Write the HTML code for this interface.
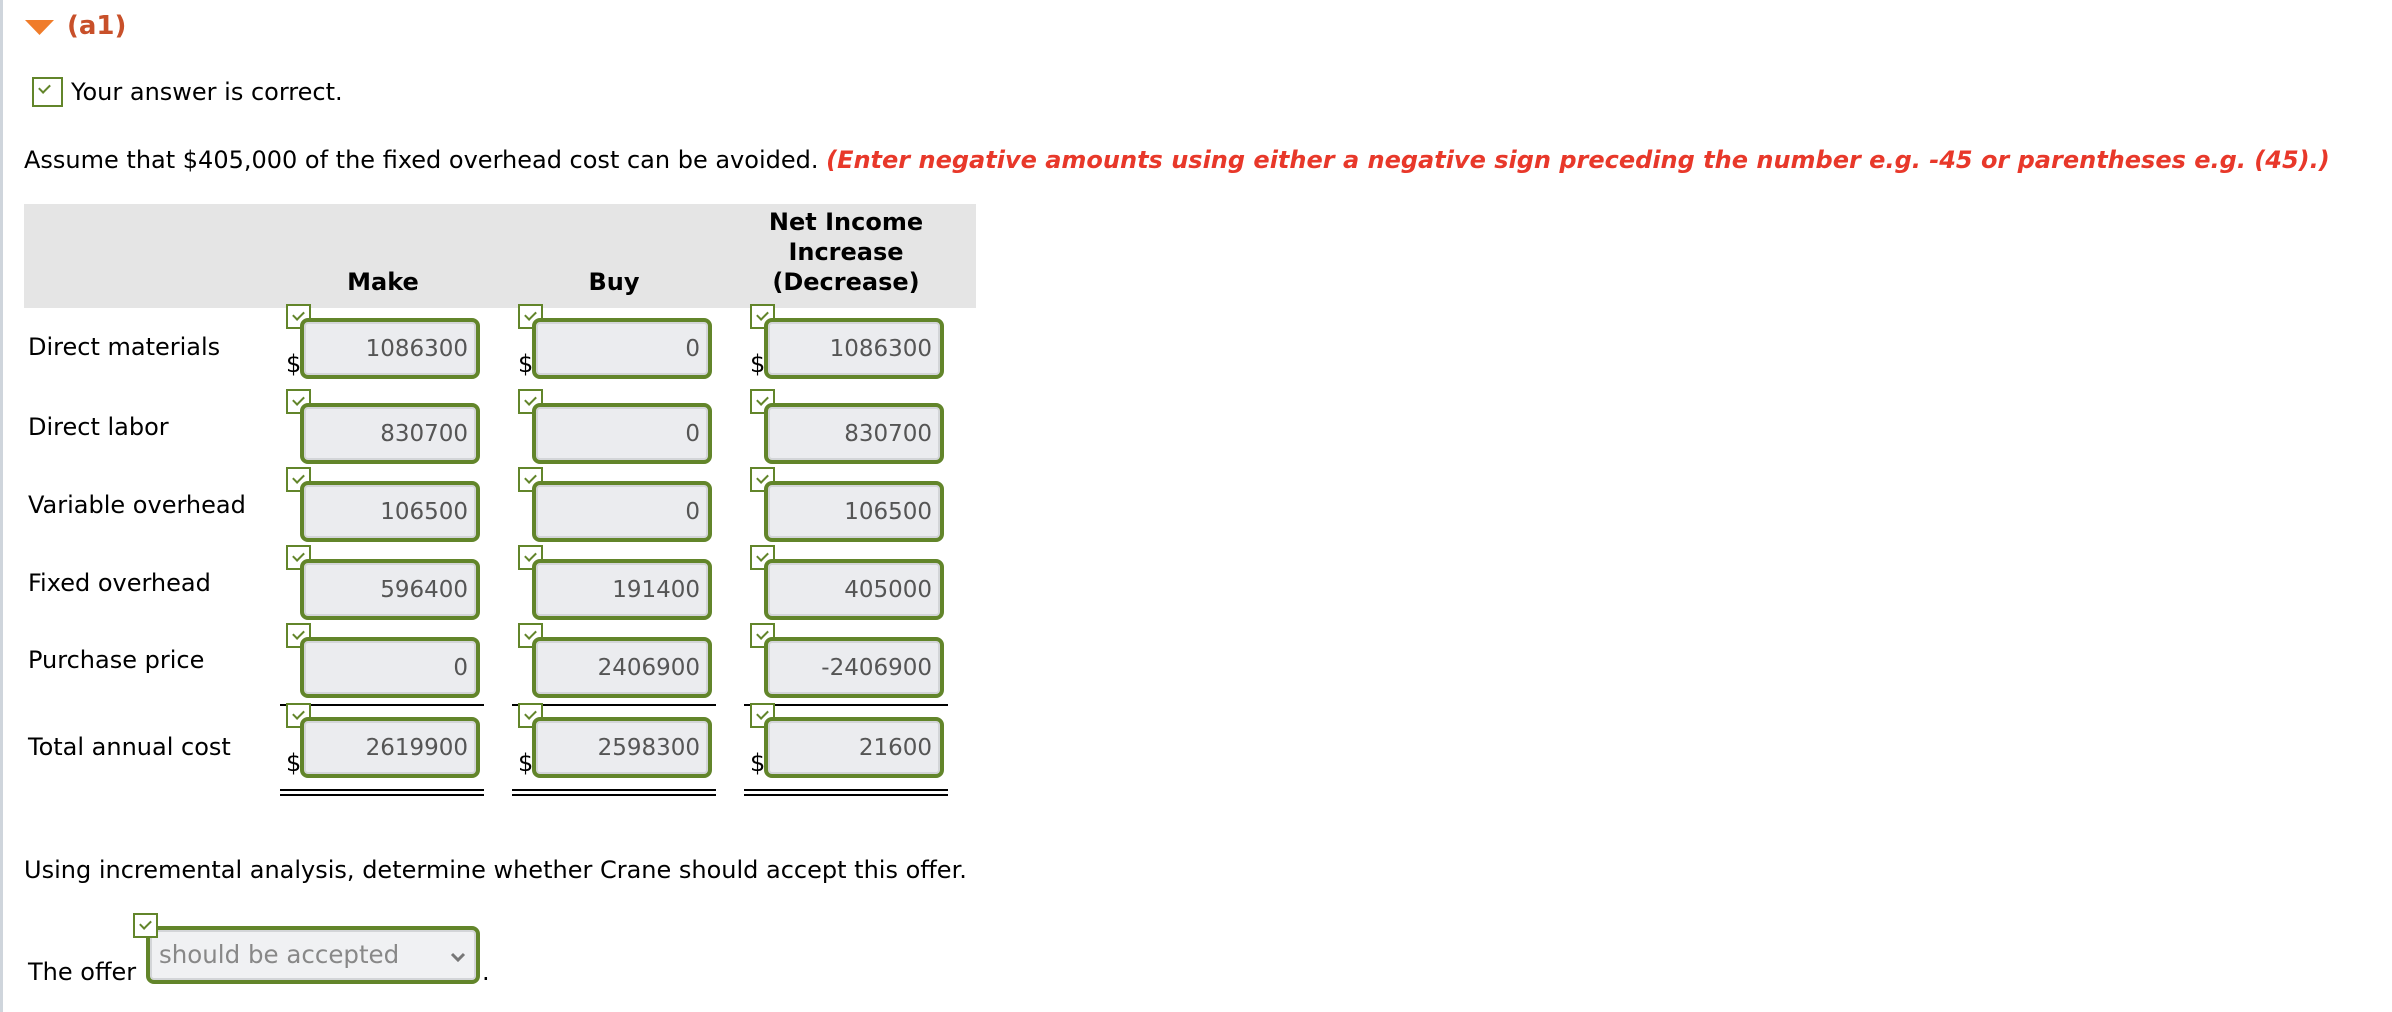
<!DOCTYPE html>
<html><head><meta charset="utf-8"><style>
html,body{margin:0;padding:0;background:#fff;}
body{width:2392px;height:1012px;position:relative;overflow:hidden;font-family:"DejaVu Sans","Liberation Sans",sans-serif;color:#000;}
.a{position:absolute;white-space:nowrap;}
.t{font-size:24px;line-height:24px;}
.lb{font-size:24px;line-height:24px;}
.cb{position:absolute;width:21px;height:21px;border:2px solid #62852a;background:#fff;box-sizing:content-box;}
.cb::after{content:"";position:absolute;left:7px;top:3px;width:5px;height:9px;border:solid #62852a;border-width:0 2.5px 2.5px 0;transform:rotate(45deg);}
.in{position:absolute;width:172px;height:53px;border:4px solid #62852a;border-radius:8px;background:#ebecef;box-shadow:inset 0 0 0 2px #d3d5d8;}
.v{position:absolute;right:8px;font-size:23px;line-height:23px;color:#555;}
.hd{font-weight:bold;font-size:24px;line-height:24px;text-align:center;}
.ln{position:absolute;height:2px;background:#000;}
</style></head><body>
<div class="a" style="left:0;top:0;width:3px;height:1012px;background:#cfd5dc"></div>
<svg class="a" style="left:25px;top:20px" width="30" height="16"><polygon points="0,0 29,0 14.5,15" fill="#f07c2a"/></svg>
<div class="a" style="left:67px;top:13px;font-size:26px;line-height:26px;font-weight:bold;color:#c8502a">(a1)</div>
<div class="cb" style="left:32px;top:77px;width:27px;height:26px"></div>
<div class="a t" style="left:71px;top:80px">Your answer is correct.</div>
<div class="a t" style="left:24px;top:148px">Assume that $405,000 of the fixed overhead cost can be avoided. <span style="color:#e8382a;font-weight:bold;font-style:italic">(Enter negative amounts using either a negative sign preceding the number e.g. -45 or parentheses e.g. (45).)</span></div>
<div class="a" style="left:24px;top:204px;width:952px;height:104px;background:#e5e5e5"></div>
<div class="a hd" style="left:303px;top:270px;width:160px">Make</div>
<div class="a hd" style="left:534px;top:270px;width:160px">Buy</div>
<div class="a hd" style="left:736px;top:207px;width:220px;line-height:30px">Net Income<br>Increase<br>(Decrease)</div>

<div class="a lb" style="left:28px;top:335px">Direct materials</div>
<div class="a lb" style="left:28px;top:415px">Direct labor</div>
<div class="a lb" style="left:28px;top:493px">Variable overhead</div>
<div class="a lb" style="left:28px;top:571px">Fixed overhead</div>
<div class="a lb" style="left:28px;top:648px">Purchase price</div>
<div class="a lb" style="left:28px;top:735px">Total annual cost</div>

<div class="cb" style="left:286px;top:304px"></div><div class="in" style="left:300px;top:318px"><div class="v" style="top:16px">1086300</div></div><div class="a t" style="left:286px;top:352px">$</div>
<div class="cb" style="left:518px;top:304px"></div><div class="in" style="left:532px;top:318px"><div class="v" style="top:16px">0</div></div><div class="a t" style="left:518px;top:352px">$</div>
<div class="cb" style="left:750px;top:304px"></div><div class="in" style="left:764px;top:318px"><div class="v" style="top:16px">1086300</div></div><div class="a t" style="left:750px;top:352px">$</div>

<div class="cb" style="left:286px;top:389px"></div><div class="in" style="left:300px;top:403px"><div class="v" style="top:16px">830700</div></div>
<div class="cb" style="left:518px;top:389px"></div><div class="in" style="left:532px;top:403px"><div class="v" style="top:16px">0</div></div>
<div class="cb" style="left:750px;top:389px"></div><div class="in" style="left:764px;top:403px"><div class="v" style="top:16px">830700</div></div>

<div class="cb" style="left:286px;top:467px"></div><div class="in" style="left:300px;top:481px"><div class="v" style="top:16px">106500</div></div>
<div class="cb" style="left:518px;top:467px"></div><div class="in" style="left:532px;top:481px"><div class="v" style="top:16px">0</div></div>
<div class="cb" style="left:750px;top:467px"></div><div class="in" style="left:764px;top:481px"><div class="v" style="top:16px">106500</div></div>

<div class="cb" style="left:286px;top:545px"></div><div class="in" style="left:300px;top:559px"><div class="v" style="top:16px">596400</div></div>
<div class="cb" style="left:518px;top:545px"></div><div class="in" style="left:532px;top:559px"><div class="v" style="top:16px">191400</div></div>
<div class="cb" style="left:750px;top:545px"></div><div class="in" style="left:764px;top:559px"><div class="v" style="top:16px">405000</div></div>

<div class="cb" style="left:286px;top:623px"></div><div class="in" style="left:300px;top:637px"><div class="v" style="top:16px">0</div></div>
<div class="cb" style="left:518px;top:623px"></div><div class="in" style="left:532px;top:637px"><div class="v" style="top:16px">2406900</div></div>
<div class="cb" style="left:750px;top:623px"></div><div class="in" style="left:764px;top:637px"><div class="v" style="top:16px">-2406900</div></div>

<div class="ln" style="left:280px;top:704px;width:204px"></div>
<div class="ln" style="left:512px;top:704px;width:204px"></div>
<div class="ln" style="left:744px;top:704px;width:204px"></div>

<div class="cb" style="left:286px;top:703px"></div><div class="in" style="left:300px;top:717px"><div class="v" style="top:16px">2619900</div></div><div class="a t" style="left:286px;top:751px">$</div>
<div class="cb" style="left:518px;top:703px"></div><div class="in" style="left:532px;top:717px"><div class="v" style="top:16px">2598300</div></div><div class="a t" style="left:518px;top:751px">$</div>
<div class="cb" style="left:750px;top:703px"></div><div class="in" style="left:764px;top:717px"><div class="v" style="top:16px">21600</div></div><div class="a t" style="left:750px;top:751px">$</div>
<div class="ln" style="left:280px;top:789px;width:204px"></div><div class="ln" style="left:280px;top:794px;width:204px"></div>
<div class="ln" style="left:512px;top:789px;width:204px"></div><div class="ln" style="left:512px;top:794px;width:204px"></div>
<div class="ln" style="left:744px;top:789px;width:204px"></div><div class="ln" style="left:744px;top:794px;width:204px"></div>

<div class="a t" style="left:24px;top:858px">Using incremental analysis, determine whether Crane should accept this offer.</div>
<div class="a t" style="left:28px;top:960px">The offer</div>
<div class="in" style="left:146px;top:926px;width:326px;height:50px;background:#f0f1f3"><div class="a" style="left:9px;top:13px;font-size:24.5px;line-height:24px;color:#888">should be accepted</div>
<svg class="a" style="left:300px;top:22px" width="16" height="10"><polyline points="2,2 8,8 14,2" fill="none" stroke="#777" stroke-width="3"/></svg></div>
<div class="cb" style="left:133px;top:913px"></div>
<div class="a t" style="left:482px;top:960px">.</div>
</body></html>
